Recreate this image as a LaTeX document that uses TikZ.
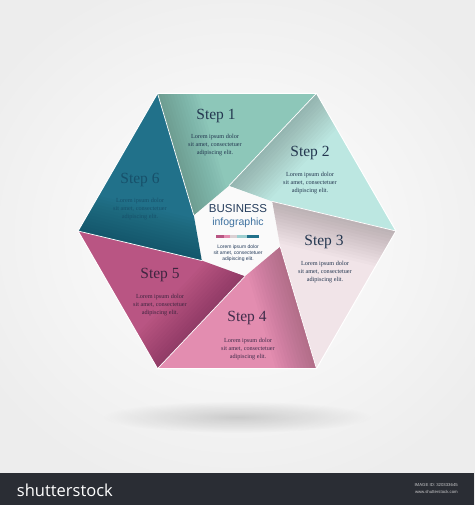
\documentclass[tikz,border=0pt]{standalone}
\usepackage{fontspec}
\setmainfont{Liberation Serif}
\setsansfont{Liberation Sans}
\newfontfamily\logofont{Open Sans}
\usetikzlibrary{calc,fadings}
\tikzfading[name=softfade, inner color=transparent!0, outer color=transparent!100]
\definecolor{bgc}{HTML}{EDEDED}
\definecolor{sA}{HTML}{8DC7B9}
\definecolor{sB}{HTML}{BCE7E1}
\definecolor{sC}{HTML}{F1E4E8}
\definecolor{sD}{HTML}{E38DB0}
\definecolor{sE}{HTML}{B95583}
\definecolor{sF}{HTML}{21718A}
\definecolor{tA}{HTML}{23364F}
\definecolor{tD}{HTML}{3F2C4A}
\definecolor{tE}{HTML}{3E2540}
\definecolor{tF}{HTML}{17506A}
\definecolor{bizc}{HTML}{263D5C}
\definecolor{infoc}{HTML}{3E72A0}
\definecolor{barc}{HTML}{2A2D34}
\newcommand\foldshade[2]{%
  \begin{scope}
    \clip (V#1)--(V#2)--(I#2)--(I#1)--cycle;
    \coordinate (fa) at ($(V#1)!-0.5!(I#1)$);
    \coordinate (fb) at ($(I#1)!-0.5!(V#1)$);
    \foreach \w in {3,6,...,39}
      \fill[black,opacity=0.016] (fa)--(fb)--($(fb)!\w pt!-90:(fa)$)--($(fa)!\w pt!90:(fb)$)--cycle;
  \end{scope}}
\tikzset{
  steptitle/.style={font=\fontsize{15.5}{18}\selectfont, inner sep=0pt},
  lorem/.style={font=\fontsize{6.2}{8}\selectfont, align=center, inner sep=0pt},
  sep/.style={white, line width=0.7pt},
}
\begin{document}
\begin{tikzpicture}[x=1pt,y=1pt]
\useasboundingbox (0,0) rectangle (474,505);
\fill[bgc] (0,0) rectangle (474,505);
\shade[inner color=white, outer color=bgc] (-60,0) rectangle (534,540);
\fill[black, opacity=0.16, path fading=softfade] (237,88) ellipse (135 and 16);
\coordinate (c) at (237,274);
\foreach \i/\a in {0/120,1/60,2/0,3/-60,4/-120,5/180}{
  \coordinate (V\i) at ($(c)+(\a:159)$);
  \coordinate (I\i) at ($(c)+(\a+40:46)$);
}
\fill[white!96!gray] (I0)--(I1)--(I2)--(I3)--(I4)--(I5)--cycle;
\fill[sA] (V0)--(V1)--(I1)--(I0)--cycle;
\fill[sB] (V1)--(V2)--(I2)--(I1)--cycle;
\fill[sC] (V2)--(V3)--(I3)--(I2)--cycle;
\fill[sD] (V3)--(V4)--(I4)--(I3)--cycle;
\fill[sE] (V4)--(V5)--(I5)--(I4)--cycle;
\fill[sF] (V5)--(V0)--(I0)--(I5)--cycle;
\foldshade{0}{1}
\foldshade{1}{2}
\foldshade{2}{3}
\foldshade{3}{4}
\foldshade{4}{5}
\foldshade{5}{0}
\foreach \i in {0,...,5}{\draw[sep] (V\i)--(I\i);}
\draw[white, line width=1pt, line join=miter] (V0)--(V1)--(V2)--(V3)--(V4)--(V5)--cycle;
% texts
\node[steptitle, text=tA] (t1) at (216,389) {Step 1};
\node[lorem, text=tA] (l1) at (215,360) {Lorem ipsum dolor\\sit amet, consectetuer\\adipiscing elit.};
\node[steptitle, text=tA] (t2) at (310,352) {Step 2};
\node[lorem, text=tA] (l2) at (310,322) {Lorem ipsum dolor\\sit amet, consectetuer\\adipiscing elit.};
\node[steptitle, text=tA] (t3) at (324,263) {Step 3};
\node[lorem, text=tA] (l3) at (325,233) {Lorem ipsum dolor\\sit amet, consectetuer\\adipiscing elit.};
\node[steptitle, text=tD] (t4) at (247,187) {Step 4};
\node[lorem, text=tD] (l4) at (248,156) {Lorem ipsum dolor\\sit amet, consectetuer\\adipiscing elit.};
\node[steptitle, text=tE] (t5) at (160,230) {Step 5};
\node[lorem, text=tE] (l5) at (160,200) {Lorem ipsum dolor\\sit amet, consectetuer\\adipiscing elit.};
\node[steptitle, text=tF] (t6) at (140,325) {Step 6};
\node[lorem, text=tF] (l6) at (140,296) {Lorem ipsum dolor\\sit amet, consectetuer\\adipiscing elit.};
% center
\node[font=\sffamily\fontsize{11.5}{13}\selectfont, text=bizc, inner sep=0pt] (biz) at (238,296) {BUSINESS};
\node[font=\sffamily\fontsize{10.5}{12}\selectfont, text=infoc, inner sep=0pt] (info) at (238,282) {infographic};
\fill[sE] (216,266.6) rectangle (224,270);
\fill[sD] (224,266.6) rectangle (230,270);
\fill[sC!80!gray] (230,266.6) rectangle (237,270);
\fill[sB!80!sF] (237,266.6) rectangle (247,270);
\fill[sF] (247,266.6) rectangle (259,270);
\node[font=\sffamily\fontsize{5}{6}\selectfont, text=bizc, align=center, inner sep=0pt] (cl) at (238,252) {Lorem ipsum dolor\\sit amet, consectetuer\\adipiscing elit.};
% bottom bar
\fill[barc] (0,0) rectangle (474,32);
\node[anchor=west, font=\logofont\fontsize{16.5}{17}\selectfont, text=white, inner sep=0pt] (logo) at (16.7,14.5) {shutterstock};
\node[anchor=east, font=\sffamily\fontsize{4.3}{7.5}\selectfont, text=white!75!barc, align=right, inner sep=0pt] (imgid) at (458,16.5) {IMAGE ID: 320333645\\www.shutterstock.com};
\end{tikzpicture}
\end{document}
